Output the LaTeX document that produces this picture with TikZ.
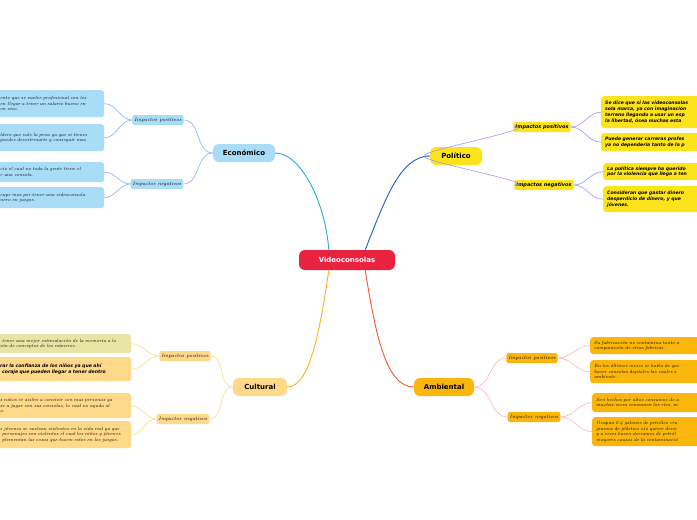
\documentclass[tikz,border=0pt]{standalone}
\usepackage{fontspec}
\setsansfont{DejaVu Sans}
\begin{document}
\begin{tikzpicture}[x=1pt,y=-1pt,
 main/.style={rounded corners=6pt,font=\sffamily\bfseries\fontsize{7}{8}\selectfont,inner sep=0pt},
 sub/.style={rounded corners=2pt,font=\itshape\fontsize{5}{6}\selectfont,inner sep=2pt,minimum height=10pt},
 leaf/.style={rounded corners=3pt,font=\itshape\fontsize{4.6}{5.6}\selectfont,align=left,inner sep=0pt},
 leafb/.style={rounded corners=3pt,font=\sffamily\bfseries\itshape\fontsize{4.6}{5.8}\selectfont,align=left,inner sep=0pt},
 lnk/.style={line width=0.9pt},
 slnk/.style={line width=0.6pt}]
\useasboundingbox (0,0) rectangle (697,520);
\clip (0,0) rectangle (697,520);
\definecolor{cred}{HTML}{E8223F}
\definecolor{cblue}{HTML}{A9DDF7}
\definecolor{cyel}{HTML}{FDE31C}
\definecolor{corg}{HTML}{FFD98A}
\definecolor{camb}{HTML}{FBB60C}
\definecolor{cgrn}{HTML}{E8E4A4}
% main nodes
\node[main,fill=cred,text=white,minimum width=96pt,minimum height=20pt] (V) at (347,260) {Videoconsolas};
\node[main,fill=cblue,minimum width=62pt,minimum height=18pt] (E) at (244,153) {Económico};
\node[main,fill=cyel,minimum width=52pt,minimum height=18pt] (P) at (456,156) {Político};
\node[main,fill=corg,minimum width=54pt,minimum height=18pt] (C) at (260,387) {Cultural};
\node[main,fill=camb,minimum width=60pt,minimum height=18pt] (A) at (444,387) {Ambiental};
\draw[lnk,draw={rgb,255:red,41;green,168;blue,224}] (V.north west)++(30,0) coordinate (v1) (v1) .. controls (325,200) and (300,153) .. (E.east);
\draw[lnk,draw={rgb,255:red,27;green,95;blue,193}] (V.north east)++(-30,0) coordinate (v2) (v2) .. controls (385,200) and (400,156) .. (P.west);
\draw[lnk,draw={rgb,255:red,251;green,176;blue,34}] (V.south west)++(30,0) coordinate (v3) (v3) .. controls (320,330) and (310,387) .. (C.east);
\draw[lnk,draw={rgb,255:red,240;green,88;blue,42}] (V.south east)++(-30,0) coordinate (v4) (v4) .. controls (375,330) and (385,387) .. (A.west);
% sub nodes
\node[sub,fill=cblue] (E1) at (158,120) {Impactos positivos};
\node[sub,fill=cblue] (E2) at (157,184) {Impactos negativos};
\node[sub,fill=cyel,font=\sffamily\bfseries\itshape\fontsize{5}{6}\selectfont] (P1) at (542,127) {Impactos positivos};
\node[sub,fill=cyel,font=\sffamily\bfseries\itshape\fontsize{5}{6}\selectfont] (P2) at (544,185) {Impactos negativos};
\node[sub,fill=corg] (C1) at (185,356) {Impactos positivos};
\node[sub,fill=corg] (C2) at (183,419) {Impactos negativos};
\node[sub,fill=camb] (A1) at (532,358) {Impactos positivos};
\node[sub,fill=camb] (A2) at (534,417) {Impactos negativos};
\foreach \s/\p in {E1/E,E2/E}{\draw[slnk,draw=cblue!80!blue] (\p.west) to[out=180,in=0] (\s.east);}
\foreach \s/\p in {P1/P,P2/P}{\draw[slnk,draw=blue!40] (\p.west) to[out=180,in=0] (\s.west);}
\foreach \s/\p in {C1/C,C2/C}{\draw[slnk,draw=corg] (\p.west) to[out=180,in=0] (\s.east);}
\foreach \s/\p in {A1/A,A2/A}{\draw[slnk,draw=red!30] (\p.east) to[out=0,in=180] (\s.west);}
% leaves left (Economico)
\node[leaf,fill=cblue,text width=110pt,minimum height=27pt,anchor=north west] (E1a) at (-6,90) {\hspace*{6pt}ente que se vuelve profesional con los\\\hspace*{6pt}en llegar a tener un salario bueno en\\\hspace*{6pt}en vivo.};
\node[leaf,fill=cblue,text width=110pt,minimum height=27pt,anchor=north west] (E1b) at (-6,124) {\hspace*{6pt}ldero que vale la pena ya que si tienes\\\hspace*{6pt}puedes desestresarte y conseguir mas\\ };
\node[leaf,fill=cblue,text width=110pt,minimum height=20pt,anchor=north west] (E2a) at (-6,162) {\hspace*{6pt}cio el cual no toda la gente tiene el\\\hspace*{6pt}r una consola.};
\node[leaf,fill=cblue,text width=110pt,minimum height=21pt,anchor=north west] (E2b) at (-6,187) {\hspace*{6pt}cupe mas por tener una videoconsola\\\hspace*{6pt}nero en juegos.};
\foreach \l/\s in {E1a/E1,E1b/E1,E2a/E2,E2b/E2}{\draw[slnk,draw=cblue!80!blue] (\s.west) to[out=180,in=0] (\l.east);}
% leaves Politico
\node[leafb,fill=cyel,text width=110pt,minimum height=32pt,anchor=north west] (P1a) at (601,96) {\hspace*{4pt}Se dice que si las videoconsolas\\\hspace*{4pt}sola marca, ya con imaginación\\\hspace*{4pt}terreno llegando a usar un esp\\\hspace*{4pt}la libertad, ósea muchas esta};
\node[leafb,fill=cyel,text width=110pt,minimum height=18pt,anchor=north west] (P1b) at (601,133) {\hspace*{4pt}Puede generar carreras profes\\\hspace*{4pt}ya no dependería tanto de la p};
\node[leafb,fill=cyel,text width=110pt,minimum height=17pt,anchor=north west] (P2a) at (603,163) {\hspace*{4pt}La política siempre ha querido\\\hspace*{4pt}por la violencia que llega a ten};
\node[leafb,fill=cyel,text width=110pt,minimum height=26pt,anchor=north west] (P2b) at (603,186) {\hspace*{4pt}Consideran que gastar dinero\\\hspace*{4pt}desperdicio de dinero, y que\\\hspace*{4pt}jóvenes.};
\foreach \l/\s in {P1a/P1,P1b/P1,P2a/P2,P2b/P2}{\draw[slnk,draw=blue!40] (\s.east) to[out=0,in=180] (\l.west);}
% leaves Cultural
\node[leaf,fill=cgrn,text width=137pt,minimum height=19pt,anchor=north west] (C1a) at (-6,334) {\hspace*{8pt}tener una mejor estimulación de la memoria a lo\\\hspace*{6pt}ión de conceptos de los números.};
\node[leafb,fill=corg,text width=137pt,minimum height=24pt,anchor=north west] (C1b) at (-6,357) {\hspace*{6pt}rar la confianza de los niños ya que ahí\\\hspace*{8pt}coraje que pueden llegar a tener dentro\\ };
\node[leaf,fill=corg,text width=137pt,minimum height=25pt,anchor=north west] (C2a) at (-6,393) {\hspace*{6pt}s niños se aislen a convivir con mas personas ya\\\hspace*{6pt}se a jugar con sus consolas, lo cual no ayuda al\\\hspace*{6pt}o.};
\node[leaf,fill=corg,text width=137pt,minimum height=27pt,anchor=north west] (C2b) at (-6,421) {\hspace*{6pt}s jóvenes se vuelvan violentos en la vida real ya que\\\hspace*{8pt}personajes son violentos el cual los niños y jóvenes\\\hspace*{8pt}plementan las cosas que hacen estos en los juegos.};
\foreach \l/\s in {C1a/C1,C1b/C1,C2a/C2,C2b/C2}{\draw[slnk,draw=corg] (\s.west) to[out=180,in=0] (\l.east);}
% leaves Ambiental
\node[leaf,fill=camb,text width=115pt,minimum height=17pt,anchor=north west] (A1a) at (590,337) {\hspace*{4pt}Su fabricación no contamina tanto a\\\hspace*{4pt}comparación de otras fabricas.};
\node[leaf,fill=camb,text width=115pt,minimum height=23pt,anchor=north west] (A1b) at (590,360) {\hspace*{4pt}En los últimos meses se habla de que\\\hspace*{4pt}hacer consolas digitales las cuales s\\\hspace*{4pt}ambiente.};
\node[leaf,fill=camb,text width=115pt,minimum height=19pt,anchor=north west] (A2a) at (592,393) {\hspace*{4pt}Son hechos por altos consumos de a\\\hspace*{4pt}muchas veces consumen los ríos, m};
\node[leaf,fill=camb,text width=115pt,minimum height=29pt,anchor=north west] (A2b) at (592,417) {\hspace*{4pt}Ocupan 0.4 galones de petróleo cru\\\hspace*{4pt}gramos de plástico eso quiere decir\\\hspace*{4pt}y a veces hacen derrames de petról\\\hspace*{4pt}mayores causas de la contaminació};
\foreach \l/\s in {A1a/A1,A1b/A1,A2a/A2,A2b/A2}{\draw[slnk,draw=red!30] (\s.east) to[out=0,in=180] (\l.west);}
\end{tikzpicture}
\end{document}
